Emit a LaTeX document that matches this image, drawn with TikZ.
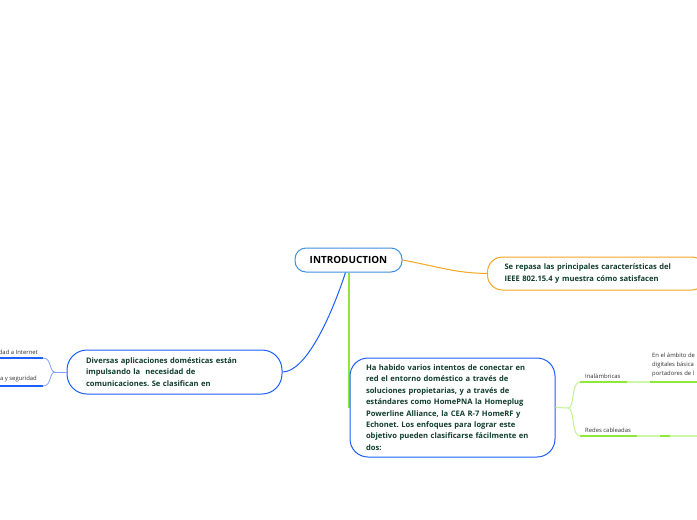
\documentclass[tikz,border=0pt]{standalone}
\usepackage{fontspec}
\setmainfont{Open Sans}
\usetikzlibrary{backgrounds}
\frenchspacing
\definecolor{introblue}{HTML}{3D8FDC}
\definecolor{mblue}{HTML}{1E5EFF}
\definecolor{lblue}{HTML}{7FA4FF}
\definecolor{morange}{HTML}{F5A623}
\definecolor{mgreen}{HTML}{8EE83A}
\definecolor{lgreen}{HTML}{CDF7A6}
\definecolor{txtgreen}{HTML}{103E2E}
\tikzset{
  bubble/.style={fill=white, line width=1pt, align=left, text=txtgreen,
    font=\fontsize{7.6}{11.4}\selectfont\bfseries\frenchspacing},
  small/.style={font=\fontsize{5.9}{9}\selectfont, text=black!80, inner sep=0pt, align=left},
  thickline/.style={line width=2.2pt},
}
\begin{document}
\begin{tikzpicture}[x=1pt,y=-1pt]
\useasboundingbox (0,0) rectangle (697,520);
\clip (0,0) rectangle (697,520);

\node[bubble, draw=introblue, minimum width=107pt, minimum height=24pt, rounded corners=11pt,
  text=black, font=\fontsize{9.9}{11}\selectfont\bfseries, align=center] (intro) at (348.5,260) {INTRODUCTION};

\node[bubble, draw=morange, anchor=west, text width=185pt, inner xsep=17pt, minimum height=33pt,
  rounded corners=15pt] (ieee) at (487,273.5)
  {Se repasa las principales características del\\IEEE 802.15.4 y muestra cómo satisfacen};

\node[bubble, draw=mblue, text width=177pt, inner xsep=19pt, minimum height=44pt,
  rounded corners=20pt] (div) at (174.5,372)
  {Diversas aplicaciones domésticas están\\impulsando la\ \ necesidad de\\comunicaciones. Se clasifican en};

\node[bubble, draw=mblue, text width=173pt, inner xsep=16pt, minimum height=99pt,
  rounded corners=18pt] (big) at (452.5,407.5)
  {Ha habido varios intentos de conectar en\\red el entorno doméstico a través de\\soluciones propietarias, y a través de\\estándares como HomePNA la Homeplug\\Powerline Alliance, la CEA R-7 HomeRF y\\Echonet. Los enfoques para lograr este\\objetivo pueden clasificarse fácilmente en\\dos:};

% right branches
\coordinate (gj) at (568,408);
\coordinate (ina0) at (580,382);
\coordinate (red0) at (580,436);
\node[small, anchor=south west] (inat) at (585,378.5) {Inalámbricas};
\node[small, anchor=south west] (redt) at (585,432.5) {Redes cableadas};
\node[small, anchor=north west] (amb) at (652,353) {En el ámbito de\\digitales básica\\portadores de l};
\draw[mgreen, thickline] (ina0) -- (627,382);
\draw[lgreen, thickline] (627,382) -- (650,382);
\draw[mgreen, thickline] (650,382) -- (697,382);
\draw[mgreen, thickline] (red0) -- (637,436);
\draw[lgreen, thickline] (637,436) -- (660,436);
\draw[mgreen, thickline] (660,436) -- (670,436);
\draw[lgreen, thickline] (670,436) -- (697,436);

% left branches
\coordinate (bj) at (55,372);
\coordinate (int0) at (43,358);
\coordinate (seg0) at (43,386);
\node[small, anchor=south east] (intt) at (38,354.5) {dad a Internet};
\node[small, anchor=south east] (segt) at (37,382.5) {a y seguridad};
\draw[mblue, thickline] (int0) -- (0,358);
\draw[mblue, thickline] (seg0) -- (0,386);

\begin{scope}[on background layer]
\fill[white] (0,0) rectangle (697,520);
\draw[mgreen, line width=1.2pt] ([xshift=0.5pt]intro.south) -- ([xshift=0.5pt]intro.south |- big.center);
\end{scope}
\draw[mblue, line width=1pt] ([xshift=-3pt]intro.south) .. controls (330,320) and (305,372) .. (div.east);
\draw[morange, line width=1pt] (intro.east) .. controls (440,267) and (455,273) .. (ieee.west);
\draw[lgreen!80!mgreen, line width=1pt] (big.east) -- (gj);
\draw[lgreen!80!mgreen, line width=1pt] (gj) .. controls (575,408) and (571,382) .. (ina0);
\draw[lgreen!80!mgreen, line width=1pt] (gj) .. controls (575,408) and (571,436) .. (red0);
\draw[lblue, line width=0.8pt] (div.west) -- (bj);
\draw[lblue, line width=0.8pt] (bj) .. controls (49,372) and (52,358) .. (int0);
\draw[lblue, line width=0.8pt] (bj) .. controls (49,372) and (52,386) .. (seg0);
\end{tikzpicture}
\end{document}
